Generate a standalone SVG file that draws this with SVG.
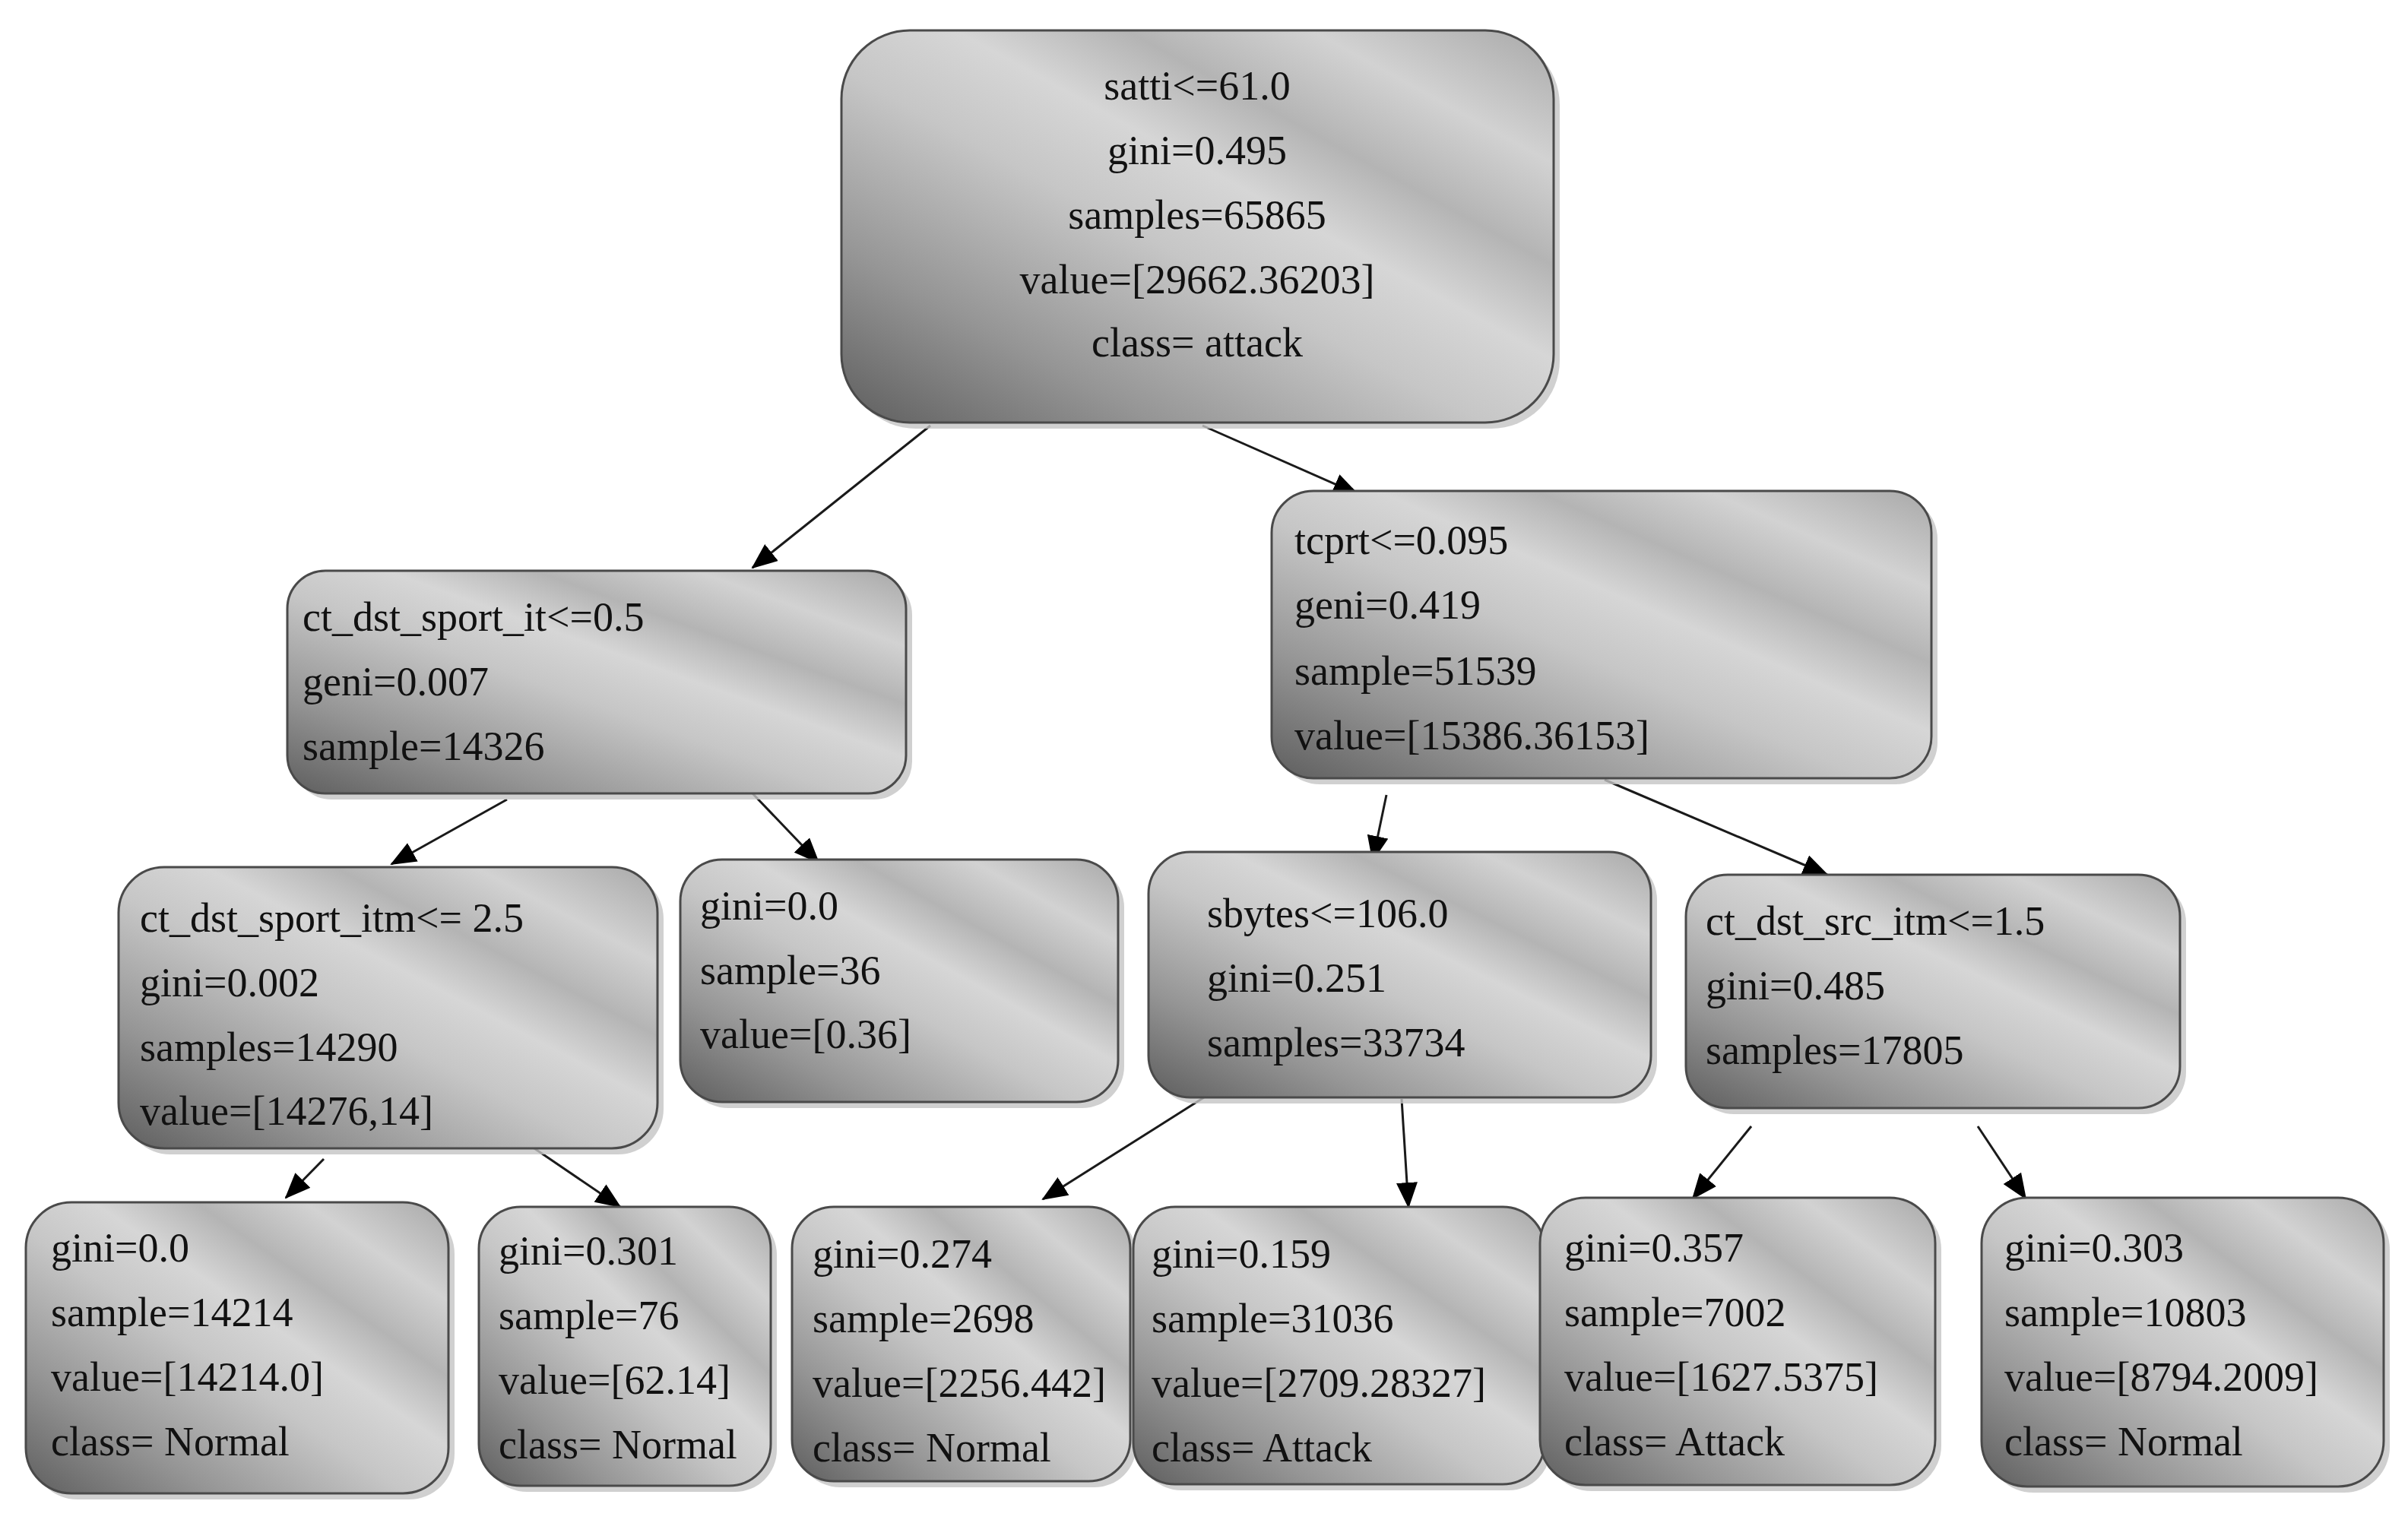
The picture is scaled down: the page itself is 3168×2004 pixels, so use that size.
<svg xmlns="http://www.w3.org/2000/svg" width="3168" height="2004" viewBox="0 0 3168 2004">
<defs>
<linearGradient id="g" x1="0" y1="1" x2="1" y2="0">
<stop offset="0" stop-color="#5e5e5e"/>
<stop offset="0.22" stop-color="#959595"/>
<stop offset="0.45" stop-color="#c6c6c6"/>
<stop offset="0.58" stop-color="#d6d6d6"/>
<stop offset="0.7" stop-color="#b4b4b4"/>
<stop offset="0.83" stop-color="#d2d2d2"/>
<stop offset="1" stop-color="#a8a8a8"/>
</linearGradient>
<marker id="ah" markerUnits="userSpaceOnUse" markerWidth="34" markerHeight="28" refX="32" refY="14" orient="auto">
<path d="M0,0 L34,14 L0,28 Z" fill="#000"/>
</marker>
</defs>
<style>
.box{fill:url(#g);stroke:#4a4a4a;stroke-width:3}
.sh{fill:#c4c4c4;opacity:0.8}
text{font-family:"Liberation Serif","Times New Roman",serif;font-size:54px;fill:#111}
.c{text-anchor:middle}
.edge{stroke:#1a1a1a;stroke-width:3;fill:none;marker-end:url(#ah)}
</style>
<rect width="3168" height="2004" fill="#fff"/>
<g id="connectors">
<line class="edge" x1="1224" y1="560" x2="990" y2="747"/>
<line class="edge" x1="1582" y1="560" x2="1786" y2="650"/>
<line class="edge" x1="667" y1="1052" x2="515" y2="1137"/>
<line class="edge" x1="990" y1="1044" x2="1077" y2="1135"/>
<line class="edge" x1="1824" y1="1046" x2="1806" y2="1132"/>
<line class="edge" x1="2111" y1="1026" x2="2404" y2="1151"/>
<line class="edge" x1="426" y1="1525" x2="376" y2="1576"/>
<line class="edge" x1="697" y1="1507" x2="816" y2="1588"/>
<line class="edge" x1="1584" y1="1444" x2="1372" y2="1578"/>
<line class="edge" x1="1844" y1="1446" x2="1853" y2="1588"/>
<line class="edge" x1="2304" y1="1482" x2="2227" y2="1577"/>
<line class="edge" x1="2602" y1="1482" x2="2665" y2="1577"/>
</g>
<g id="root">
<rect class="sh" x="1115" y="48" width="937" height="516" rx="90"/>
<rect class="box" x="1107" y="40" width="937" height="516" rx="90"/>
<text class="c" x="1575" y="131">satti&lt;=61.0</text>
<text class="c" x="1575" y="216">gini=0.495</text>
<text class="c" x="1575" y="301">samples=65865</text>
<text class="c" x="1575" y="386">value=[29662.36203]</text>
<text class="c" x="1575" y="469">class= attack</text>
</g>
<g id="n_left">
<rect class="sh" x="386" y="759" width="814" height="293" rx="50"/>
<rect class="box" x="378" y="751" width="814" height="293" rx="50"/>
<text x="398" y="830">ct_dst_sport_it&lt;=0.5</text>
<text x="398" y="915">geni=0.007</text>
<text x="398" y="1000">sample=14326</text>
</g>
<g id="n_right">
<rect class="sh" x="1681" y="654" width="868" height="378" rx="55"/>
<rect class="box" x="1673" y="646" width="868" height="378" rx="55"/>
<text x="1703" y="729">tcprt&lt;=0.095</text>
<text x="1703" y="814">geni=0.419</text>
<text x="1703" y="901">sample=51539</text>
<text x="1703" y="986">value=[15386.36153]</text>
</g>
<g id="n_itm">
<rect class="sh" x="164" y="1149" width="709" height="370" rx="60"/>
<rect class="box" x="156" y="1141" width="709" height="370" rx="60"/>
<text x="184" y="1226">ct_dst_sport_itm&lt;= 2.5</text>
<text x="184" y="1311">gini=0.002</text>
<text x="184" y="1396">samples=14290</text>
<text x="184" y="1480">value=[14276,14]</text>
</g>
<g id="n_gini0">
<rect class="sh" x="903" y="1139" width="576" height="319" rx="55"/>
<rect class="box" x="895" y="1131" width="576" height="319" rx="55"/>
<text x="921" y="1210">gini=0.0</text>
<text x="921" y="1295">sample=36</text>
<text x="921" y="1379">value=[0.36]</text>
</g>
<g id="n_sbytes">
<rect class="sh" x="1519" y="1129" width="661" height="323" rx="55"/>
<rect class="box" x="1511" y="1121" width="661" height="323" rx="55"/>
<text x="1588" y="1220">sbytes&lt;=106.0</text>
<text x="1588" y="1305">gini=0.251</text>
<text x="1588" y="1390">samples=33734</text>
</g>
<g id="n_src">
<rect class="sh" x="2226" y="1159" width="650" height="307" rx="55"/>
<rect class="box" x="2218" y="1151" width="650" height="307" rx="55"/>
<text x="2244" y="1230">ct_dst_src_itm&lt;=1.5</text>
<text x="2244" y="1315">gini=0.485</text>
<text x="2244" y="1400">samples=17805</text>
</g>
<g id="leaf1">
<rect class="sh" x="42" y="1590" width="556" height="383" rx="60"/>
<rect class="box" x="34" y="1582" width="556" height="383" rx="60"/>
<text x="67" y="1660">gini=0.0</text>
<text x="67" y="1745">sample=14214</text>
<text x="67" y="1830">value=[14214.0]</text>
<text x="67" y="1915">class= Normal</text>
</g>
<g id="leaf2">
<rect class="sh" x="638" y="1596" width="384" height="367" rx="55"/>
<rect class="box" x="630" y="1588" width="384" height="367" rx="55"/>
<text x="656" y="1664">gini=0.301</text>
<text x="656" y="1749">sample=76</text>
<text x="656" y="1834">value=[62.14]</text>
<text x="656" y="1919">class= Normal</text>
</g>
<g id="leaf3">
<rect class="sh" x="1050" y="1596" width="445" height="361" rx="55"/>
<rect class="box" x="1042" y="1588" width="445" height="361" rx="55"/>
<text x="1069" y="1668">gini=0.274</text>
<text x="1069" y="1753">sample=2698</text>
<text x="1069" y="1838">value=[2256.442]</text>
<text x="1069" y="1923">class= Normal</text>
</g>
<g id="leaf4">
<rect class="sh" x="1499" y="1596" width="541" height="365" rx="55"/>
<rect class="box" x="1491" y="1588" width="541" height="365" rx="55"/>
<text x="1515" y="1668">gini=0.159</text>
<text x="1515" y="1753">sample=31036</text>
<text x="1515" y="1838">value=[2709.28327]</text>
<text x="1515" y="1923">class= Attack</text>
</g>
<g id="leaf5">
<rect class="sh" x="2034" y="1584" width="520" height="378" rx="60"/>
<rect class="box" x="2026" y="1576" width="520" height="378" rx="60"/>
<text x="2058" y="1660">gini=0.357</text>
<text x="2058" y="1745">sample=7002</text>
<text x="2058" y="1830">value=[1627.5375]</text>
<text x="2058" y="1915">class= Attack</text>
</g>
<g id="leaf6">
<rect class="sh" x="2615" y="1584" width="529" height="380" rx="60"/>
<rect class="box" x="2607" y="1576" width="529" height="380" rx="60"/>
<text x="2637" y="1660">gini=0.303</text>
<text x="2637" y="1745">sample=10803</text>
<text x="2637" y="1830">value=[8794.2009]</text>
<text x="2637" y="1915">class= Normal</text>
</g>
</svg>
